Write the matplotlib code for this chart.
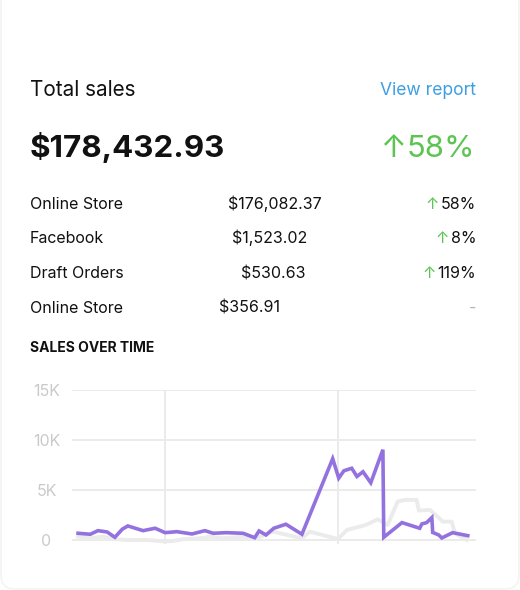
import matplotlib.pyplot as plt
from matplotlib.patches import FancyBboxPatch
from matplotlib.transforms import IdentityTransform

plt.rcParams['font.family'] = ['Inter', 'DejaVu Sans']

# summary table
channels = ["Online Store", "Facebook", "Draft Orders", "Online Store"]
amounts = ["$176,082.37", "$1,523.02", "$530.63", "$356.91"]
changes = ["58%", "8%", "119%", None]
total = "$178,432.93"
total_change = "58%"

# sales over time (day index, value)
cur_days = [0, 2.8, 4.6, 6.7, 8.5, 10.2, 11.5, 15, 17.8, 20.1, 22.8, 26.3, 29.3, 31.2,
            34.2, 38.1, 40.8, 41.8, 43.4, 45.2, 48, 51.7, 58.8, 60.2, 61.4, 63.2, 64.4,
            65.8, 67.6, 70.4, 70.6, 74.8, 78.9, 79.4, 80.5, 81.7, 81.9, 83.3, 84, 86.5, 90]
cur_sales = [670, 570, 930, 800, 270, 1070, 1400, 930, 1170, 730, 830, 600, 930, 670,
             730, 670, 230, 900, 500, 1170, 1570, 570, 8100, 6170, 6900, 7150, 6330,
             6800, 5700, 9000, 270, 1730, 1170, 1600, 1730, 2230, 750, 500, 200, 730, 430]
prev_days = [0, 3.5, 5.8, 8.1, 11.3, 15.9, 20.1, 21.9, 24.2, 28.2, 30.5, 33.5, 38.1, 40.8,
             45, 51.7, 53.5, 60, 62.1, 66.5, 69.2, 71.5, 73.8, 75.5, 78.2, 78.7, 81.2,
             82.6, 84.2, 86.3, 87, 89.8]
prev_sales = [330, 230, 330, 100, 0, 0, -150, -100, 70, 170, 330, 170, 330, 100,
              830, 170, 830, 100, 1000, 1500, 2070, 1500, 3830, 4000, 4000, 2930, 3000,
              2500, 1830, 1830, 670, 0]
y_ticks = [0, 5000, 10000, 15000]
y_labels = ["0", "5K", "10K", "15K"]

W, H = 520, 590
fig = plt.figure(figsize=(W / 100, H / 100), dpi=100)


def pos(x, y):
    return x / W, 1 - y / H


def up_change(x_right, y, text, size, text_color, gap):
    # percentage right-aligned, green arrow placed just left of it
    t = fig.text(*pos(x_right, y), text, fontsize=size, color=text_color,
                 va="baseline", ha="right")
    fig.canvas.draw()
    bb = t.get_window_extent()
    fig.text((bb.x0 - gap) / W, 1 - y / H, "↑", fontsize=size, color=green,
             va="baseline", ha="right")


# card outline
card = FancyBboxPatch((1, 1), W - 2, H + 40, boxstyle="round,pad=0,rounding_size=14",
                      transform=IdentityTransform(), facecolor="white",
                      edgecolor="#f2f2f2", linewidth=1, zorder=-5)
fig.add_artist(card)

black = "#111111"
green = "#5cc451"

fig.text(*pos(30, 96), "Total sales", fontsize=14.9, color=black, va="baseline")
fig.text(*pos(476, 95), "View report", fontsize=12.6, color="#3d9fe2",
         va="baseline", ha="right")
fig.text(*pos(30, 157), total, fontsize=22.6, fontweight="bold", color=black, va="baseline")
up_change(475, 157, total_change, 22.3, green, 0)

row_base = [209, 243.3, 278.3, 313]
amount_x = [322, 307.5, 305, 280]
for i, name in enumerate(channels):
    y = row_base[i]
    fig.text(*pos(30, y), name, fontsize=11.5, color=black, va="baseline")
    fig.text(*pos(amount_x[i], y), amounts[i], fontsize=11.5, color=black,
             va="baseline", ha="right")
    if changes[i] is None:
        fig.text(*pos(476, y), "-", fontsize=11.5, color="#b5b5b5", va="baseline", ha="right")
    else:
        up_change(476, y, changes[i], 11.5, black, 2)

fig.text(*pos(30, 352), "SALES OVER TIME", fontsize=10, fontweight="bold",
         color=black, va="baseline")

# chart
ax_left, ax_right = 72, 476
ax_top, ax_bottom = 389.5, 544
ax = fig.add_axes([ax_left / W, 1 - ax_bottom / H, (ax_right - ax_left) / W,
                   (ax_bottom - ax_top) / H])
ax.patch.set_alpha(0)
ax.plot(prev_days, prev_sales, color="#ebebeb", linewidth=2.8, solid_joinstyle="round",
        zorder=2)
ax.plot(cur_days, cur_sales, color="#9372e0", linewidth=2.6, solid_joinstyle="miter",
        zorder=3)

ax.set_xlim(-1.4, 91.9)
ax.set_ylim(-400, 15000)
ax.set_yticks(y_ticks)
ax.set_yticklabels(y_labels)
ax.set_xticks([20, 60])
ax.set_xticklabels([])
ax.grid(True, color="#ebebeb", linewidth=1.4, zorder=0)
ax.set_axisbelow(True)
for s in ax.spines.values():
    s.set_visible(False)
ax.tick_params(axis="both", length=0)
ax.tick_params(axis="y", pad=18.4, labelsize=11.5, labelcolor="#cacaca")
for lab in ax.get_yticklabels():
    lab.set_ha("center")

fig.savefig("out.png", dpi=100)
